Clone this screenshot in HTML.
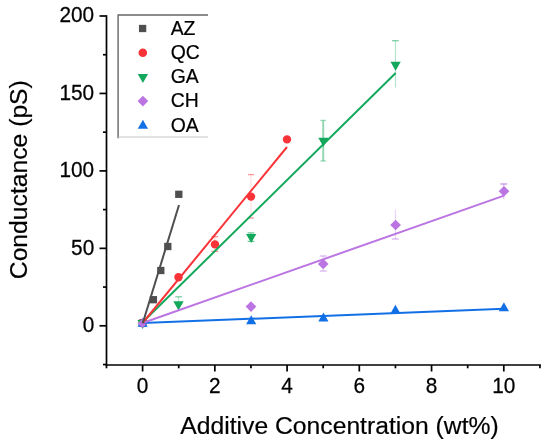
<!DOCTYPE html>
<html><head><meta charset="utf-8"><title>Conductance vs Additive Concentration</title>
<style>html,body{margin:0;padding:0;background:#fff}svg{display:block}</style></head>
<body>
<svg width="550" height="446" viewBox="0 0 550 446" font-family="'Liberation Sans', sans-serif">
<rect width="550" height="446" fill="#fff"/>
<g stroke="#f83439" fill="none"><path d="M214.8,236.6V251.4" stroke-width="0.9" opacity="0.3"/><path d="M211.4,236.6H218.2" stroke-width="1.3" opacity="0.55"/><path d="M211.4,251.4H218.2" stroke-width="1.3" opacity="0.55"/></g>
<g stroke="#f83439" fill="none"><path d="M251.0,174.6V218.0" stroke-width="0.9" opacity="0.2"/><path d="M248.0,174.6H254.0" stroke-width="1.3" opacity="0.5"/><path d="M248.0,218.0H254.0" stroke-width="1.3" opacity="0.5"/></g>
<g stroke="#14a85c" fill="none"><path d="M178.7,296.8V308.0" stroke-width="0.9" opacity="0.4"/><path d="M175.3,296.8H182.1" stroke-width="1.3" opacity="0.55"/></g>
<g stroke="#14a85c" fill="none"><path d="M251.0,232.9V241.4" stroke-width="0.9" opacity="0.4"/><path d="M247.6,232.9H254.4" stroke-width="1.3" opacity="0.6"/><path d="M247.6,241.4H254.4" stroke-width="1.3" opacity="0.6"/></g>
<g stroke="#14a85c" fill="none"><path d="M323.2,120.4V161.0" stroke-width="2.0" opacity="0.45"/><path d="M320.3,120.4H326.1" stroke-width="1.3" opacity="0.4"/><path d="M320.3,161.0H326.1" stroke-width="1.3" opacity="0.4"/></g>
<g stroke="#14a85c" fill="none"><path d="M395.4,40.7V87.5" stroke-width="0.9" opacity="0.4"/><path d="M392.0,40.7H398.8" stroke-width="1.3" opacity="0.55"/></g>
<g stroke="#bb75e2" fill="none"><path d="M323.2,256.0V271.0" stroke-width="0.9" opacity="0.4"/><path d="M319.8,256.0H326.6" stroke-width="1.3" opacity="0.55"/><path d="M319.8,271.0H326.6" stroke-width="1.3" opacity="0.55"/></g>
<g stroke="#bb75e2" fill="none"><path d="M395.4,209.4V239.0" stroke-width="0.9" opacity="0.4"/><path d="M392.0,239.0H398.8" stroke-width="1.3" opacity="0.55"/></g>
<g stroke="#bb75e2" fill="none"><path d="M503.8,184.0V199.0" stroke-width="0.9" opacity="0.6"/><path d="M500.4,184.0H507.2" stroke-width="1.3" opacity="0.8"/></g>
<rect x="138.95" y="319.35" width="7.3" height="7.3" fill="#4f4f4f"/>
<rect x="149.75" y="296.05" width="7.3" height="7.3" fill="#4f4f4f"/>
<rect x="157.15" y="266.85" width="7.3" height="7.3" fill="#4f4f4f"/>
<rect x="164.15" y="242.85" width="7.3" height="7.3" fill="#4f4f4f"/>
<rect x="175.15" y="190.65" width="7.3" height="7.3" fill="#4f4f4f"/>
<circle cx="142.60" cy="323.00" r="4.2" fill="#f83439"/>
<circle cx="178.50" cy="277.30" r="4.2" fill="#f83439"/>
<circle cx="215.00" cy="244.40" r="4.2" fill="#f83439"/>
<circle cx="251.00" cy="196.60" r="4.2" fill="#f83439"/>
<circle cx="287.00" cy="139.40" r="4.2" fill="#f83439"/>
<path d="M137.45,320.00H147.75L142.60,329.10Z" fill="#14a85c"/>
<path d="M173.35,301.30H183.65L178.50,310.40Z" fill="#14a85c"/>
<path d="M246.05,234.00H256.35L251.20,243.10Z" fill="#14a85c"/>
<path d="M318.25,137.70H328.55L323.40,146.80Z" fill="#14a85c"/>
<path d="M390.45,61.70H400.75L395.60,70.80Z" fill="#14a85c"/>
<path d="M142.60,317.70L147.70,326.70H137.50Z" fill="#1270e6"/>
<path d="M251.20,315.30L256.30,324.30H246.10Z" fill="#1270e6"/>
<path d="M323.40,312.40L328.50,321.40H318.30Z" fill="#1270e6"/>
<path d="M395.40,304.80L400.50,313.80H390.30Z" fill="#1270e6"/>
<path d="M503.90,302.30L509.00,311.30H498.80Z" fill="#1270e6"/>
<path d="M251.00,301.30L256.35,306.60L251.00,311.90L245.65,306.60Z" fill="#bb75e2"/>
<path d="M323.20,258.70L328.55,264.00L323.20,269.30L317.85,264.00Z" fill="#bb75e2"/>
<path d="M395.60,219.70L400.95,225.00L395.60,230.30L390.25,225.00Z" fill="#bb75e2"/>
<path d="M504.00,185.90L509.35,191.20L504.00,196.50L498.65,191.20Z" fill="#bb75e2"/>
<path d="M142.40,318.70L147.10,323.40L142.40,328.10L137.70,323.40Z" fill="#bb75e2"/>
<path d="M504.00,308.70L142.60,323.10" stroke="#1270e6" stroke-width="2" fill="none"/>
<path d="M504.00,195.60L142.60,323.00" stroke="#bb75e2" stroke-width="2" fill="none"/>
<path d="M395.70,73.00L142.60,322.30" stroke="#14a85c" stroke-width="2" fill="none"/>
<path d="M287.00,147.00L142.60,323.00" stroke="#f83439" stroke-width="2" fill="none"/>
<path d="M179.00,205.00L142.80,323.00" stroke="#4f4f4f" stroke-width="2" fill="none"/>
<g stroke="#000" stroke-width="1.7" fill="none">
<path d="M106.5,15.2V365.85"/>
<path d="M105.65,365.0H540.85"/>
<path d="M99.5,325.80H106.5"/>
<path d="M99.5,248.35H106.5"/>
<path d="M99.5,170.90H106.5"/>
<path d="M99.5,93.45H106.5"/>
<path d="M99.5,16.00H106.5"/>
<path d="M103.0,364.53H106.5"/>
<path d="M103.0,287.07H106.5"/>
<path d="M103.0,209.62H106.5"/>
<path d="M103.0,132.18H106.5"/>
<path d="M103.0,54.73H106.5"/>
<path d="M142.60,365.0V371.5"/>
<path d="M214.84,365.0V371.5"/>
<path d="M287.08,365.0V371.5"/>
<path d="M359.32,365.0V371.5"/>
<path d="M431.56,365.0V371.5"/>
<path d="M503.80,365.0V371.5"/>
<path d="M106.48,365.0V368.3"/>
<path d="M178.72,365.0V368.3"/>
<path d="M250.96,365.0V368.3"/>
<path d="M323.20,365.0V368.3"/>
<path d="M395.44,365.0V368.3"/>
<path d="M467.68,365.0V368.3"/>
<path d="M539.92,365.0V368.3"/>
</g>
<g font-size="20.8" fill="#000" stroke="#000" stroke-width="0.25">
<text transform="translate(94.2,332.00) scale(1,1.07)" text-anchor="end">0</text>
<text transform="translate(94.2,254.55) scale(1,1.07)" text-anchor="end">50</text>
<text transform="translate(94.2,177.10) scale(1,1.07)" text-anchor="end">100</text>
<text transform="translate(94.2,99.65) scale(1,1.07)" text-anchor="end">150</text>
<text transform="translate(94.2,22.20) scale(1,1.07)" text-anchor="end">200</text>
<text transform="translate(142.60,393.0) scale(1,1.07)" text-anchor="middle">0</text>
<text transform="translate(214.84,393.0) scale(1,1.07)" text-anchor="middle">2</text>
<text transform="translate(287.08,393.0) scale(1,1.07)" text-anchor="middle">4</text>
<text transform="translate(359.32,393.0) scale(1,1.07)" text-anchor="middle">6</text>
<text transform="translate(431.56,393.0) scale(1,1.07)" text-anchor="middle">8</text>
<text transform="translate(503.80,393.0) scale(1,1.07)" text-anchor="middle">10</text>
</g>
<text x="339.5" y="434.1" font-size="24.7" text-anchor="middle" fill="#000" stroke="#000" stroke-width="0.2">Additive Concentration (wt%)</text>
<text transform="translate(27,179.7) rotate(-90)" font-size="24.7" text-anchor="middle" fill="#000" stroke="#000" stroke-width="0.2">Conductance (pS)</text>
<path d="M208,15H118.1V138.2" stroke="#666" stroke-width="1.4" fill="none"/>
<path d="M118.1,137H208" stroke="#c4c4c4" stroke-width="1" fill="none"/>
<rect x="138.95" y="24.85" width="7.3" height="7.3" fill="#4f4f4f"/>
<circle cx="142.80" cy="52.70" r="4.3" fill="#f83439"/>
<path d="M137.75,73.90H148.05L142.90,83.00Z" fill="#14a85c"/>
<path d="M142.90,95.80L148.20,101.10L142.90,106.40L137.60,101.10Z" fill="#bb75e2"/>
<path d="M142.90,119.80L148.05,128.80H137.75Z" fill="#1270e6"/>
<g font-size="19.4" fill="#000" stroke="#000" stroke-width="0.2">
<text x="170.7" y="34.7">AZ</text>
<text x="170.7" y="58.9">QC</text>
<text x="170.7" y="83.1">GA</text>
<text x="170.7" y="107.3">CH</text>
<text x="170.7" y="131.5">OA</text>
</g>
</svg>
</body></html>
